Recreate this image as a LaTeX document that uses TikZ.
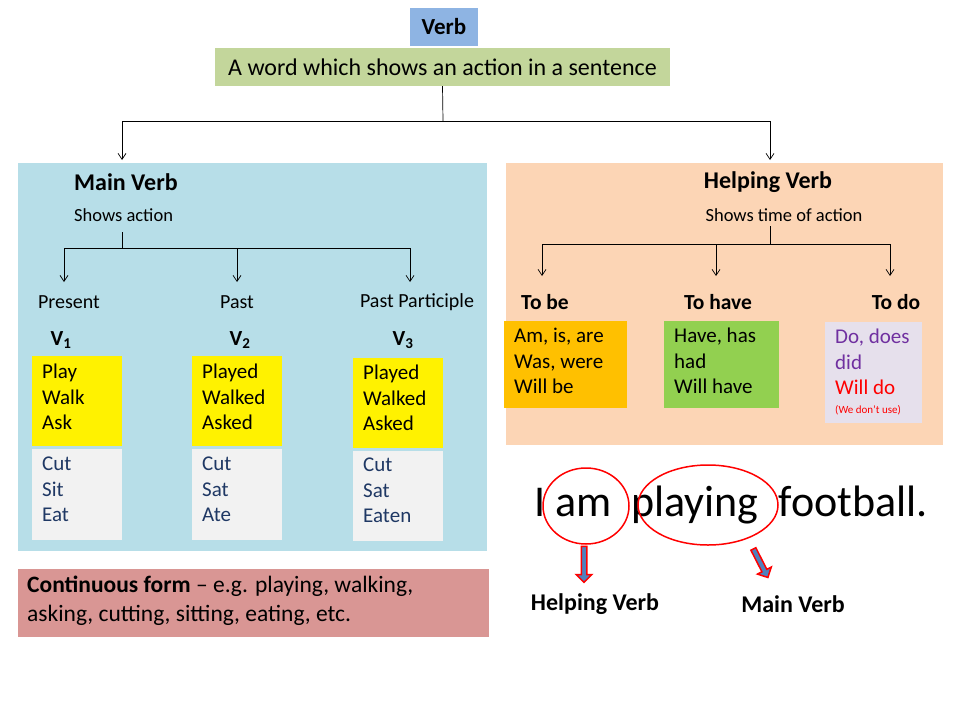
\documentclass[tikz,border=0pt]{standalone}
\usepackage{fontspec}
\setmainfont{Carlito}
\usetikzlibrary{arrows.meta,shapes.arrows}
\definecolor{vblue}{HTML}{8EB4E3}
\definecolor{vgreen}{HTML}{C3D69B}
\definecolor{pblue}{HTML}{B7DEE8}
\definecolor{porange}{HTML}{FCD5B5}
\definecolor{ppink}{HTML}{D99694}
\definecolor{navy}{HTML}{1F3864}
\definecolor{lav}{HTML}{E6E0EC}
\definecolor{purp}{HTML}{7030A0}
\definecolor{gbox}{HTML}{F2F2F2}
\definecolor{gold}{HTML}{FFC000}
\definecolor{lgreen}{HTML}{92D050}
\definecolor{arrblue}{HTML}{4F81BD}
\begin{document}
\begin{tikzpicture}[x=1pt,y=-1pt,
  con/.style={draw,-{Straight Barb[length=6pt,width=8pt]},line width=0.7pt},
  ln/.style={draw,line width=0.7pt},
  txt/.style={font=\fontsize{20}{24}\selectfont,inner sep=0pt},
  small/.style={font=\fontsize{18.5}{22}\selectfont,inner sep=0pt},
  hd/.style={font=\fontsize{24}{28}\selectfont\bfseries,inner sep=0pt},
  tohd/.style={font=\fontsize{21.5}{25}\selectfont\bfseries,inner sep=0pt},
  lst/.style={font=\fontsize{21}{25.5}\selectfont,align=left,anchor=north west,inner sep=0pt},
  barrow/.style={single arrow,draw=red,fill=arrblue,line width=1.5pt,minimum height=36pt,single arrow head extend=5pt,minimum width=14pt,inner sep=2pt}]
\useasboundingbox (0,0) rectangle (960,720);
% top
\node[fill=vblue,minimum width=68pt,minimum height=38pt,font=\fontsize{23}{26}\selectfont\bfseries,inner sep=0pt] (verb) at (444,27) {Verb};
\node[fill=vgreen,minimum width=455pt,minimum height=38pt,font=\fontsize{24}{28}\selectfont,inner sep=0pt] (def) at (442.5,67) {A word which shows an action in a sentence};
% panels
\fill[pblue] (18,163) rectangle (487,551);
\fill[porange] (506,163) rectangle (943,445);
\coordinate (mtop) at (122,160); \coordinate (htop) at (770,160);
\coordinate (j) at (443,121);
\draw[ln] (def.south) -- (j);
\draw[con] (j) -| (mtop);
\draw[con] (j) -| (htop);
% main verb
\node[hd,anchor=west] (mv) at (74,182) {Main Verb};
\node[small,anchor=west] (sa) at (74,215) {Shows action};
\coordinate (mj) at (122,248);
\draw[ln] (122,232) -- (mj);
\node[txt] (pres) at (69,302) {Present};
\node[txt] (past) at (237,302) {Past};
\node[txt] (pp) at (417,302) {Past Participle};
\draw[con] (mj) -| (64,282);
\draw[con] (mj) -| (237,282);
\draw[con] (mj) -| (410,282);
\node[tohd] (v1) at (61,340) {V\textsubscript{1}};
\node[tohd] (v2) at (240,340) {V\textsubscript{2}};
\node[tohd] (v3) at (403,340) {V\textsubscript{3}};
\fill[yellow] (32,356) rectangle (122,446); \node[lst] (y1) at (42,364) {Play\\Walk\\Ask};
\fill[yellow] (192,356) rectangle (282,446); \node[lst] (y2) at (202,364) {Played\\Walked\\Asked};
\fill[yellow] (353,358) rectangle (443,448); \node[lst] (y3) at (363,365) {Played\\Walked\\Asked};
\fill[gbox] (32,449) rectangle (122,540); \node[lst,text=navy] (g1) at (42,457) {Cut\\Sit\\Eat};
\fill[gbox] (192,449) rectangle (282,540); \node[lst,text=navy] (g2) at (202,457) {Cut\\Sat\\Ate};
\fill[gbox] (353,451) rectangle (443,541); \node[lst,text=navy] (g3) at (363,458) {Cut\\Sat\\Eaten};
% continuous
\fill[ppink] (18,569) rectangle (489,637);
\node[font=\fontsize{23.5}{29}\selectfont,align=left,anchor=north west,inner sep=0pt] (cont) at (27,576) {\textbf{Continuous form} – e.g. playing, walking,\\asking, cutting, sitting, eating, etc.};
% helping verb
\node[hd] (hv) at (768,182) {Helping Verb};
\node[small] (st) at (784,215) {Shows time of action};
\coordinate (hj) at (770,244);
\draw[ln] (770,226) -- (hj);
\draw[con] (hj) -| (542,276);
\draw[con] (hj) -| (716,276);
\draw[con] (hj) -| (890,276);
\node[tohd] (tb) at (545,302) {To be};
\node[tohd] (th) at (718,302) {To have};
\node[tohd] (td) at (896,302) {To do};
\fill[gold] (504,321) rectangle (627,408);
\node[lst] (b1) at (514,328) {Am, is, are\\Was, were\\Will be};
\fill[lgreen] (664,321) rectangle (779,408);
\node[lst] (b2) at (674,328) {Have, has\\had\\Will have};
\fill[lav] (825,322) rectangle (922,423);
\node[lst] (b3) at (835,329) {\textcolor{purp}{Do, does}\\\textcolor{purp}{did}\\\textcolor{red}{Will do}};
\node[font=\fontsize{11}{13}\selectfont,text=red,anchor=west,inner sep=0pt] (wd) at (835,410) {(We don’t use)};
% sentence
\node[font=\fontsize{44}{50}\selectfont,inner sep=0pt] (s) at (731,505) {I\ am\ \ playing\ \ football.};
\draw[red,line width=1.5pt] (586,506) ellipse [x radius=43,y radius=38];
\draw[red,line width=1.5pt] (708,505) ellipse [x radius=70,y radius=40];
\node[barrow,rotate=-90] (a1) at (584,563) {};
\node[barrow,rotate=-63,minimum height=32pt] (a2) at (760,562) {};
\node[hd] (hl) at (595,604) {Helping Verb};
\node[hd] (ml) at (793,604) {Main Verb};
\end{tikzpicture}
\end{document}
